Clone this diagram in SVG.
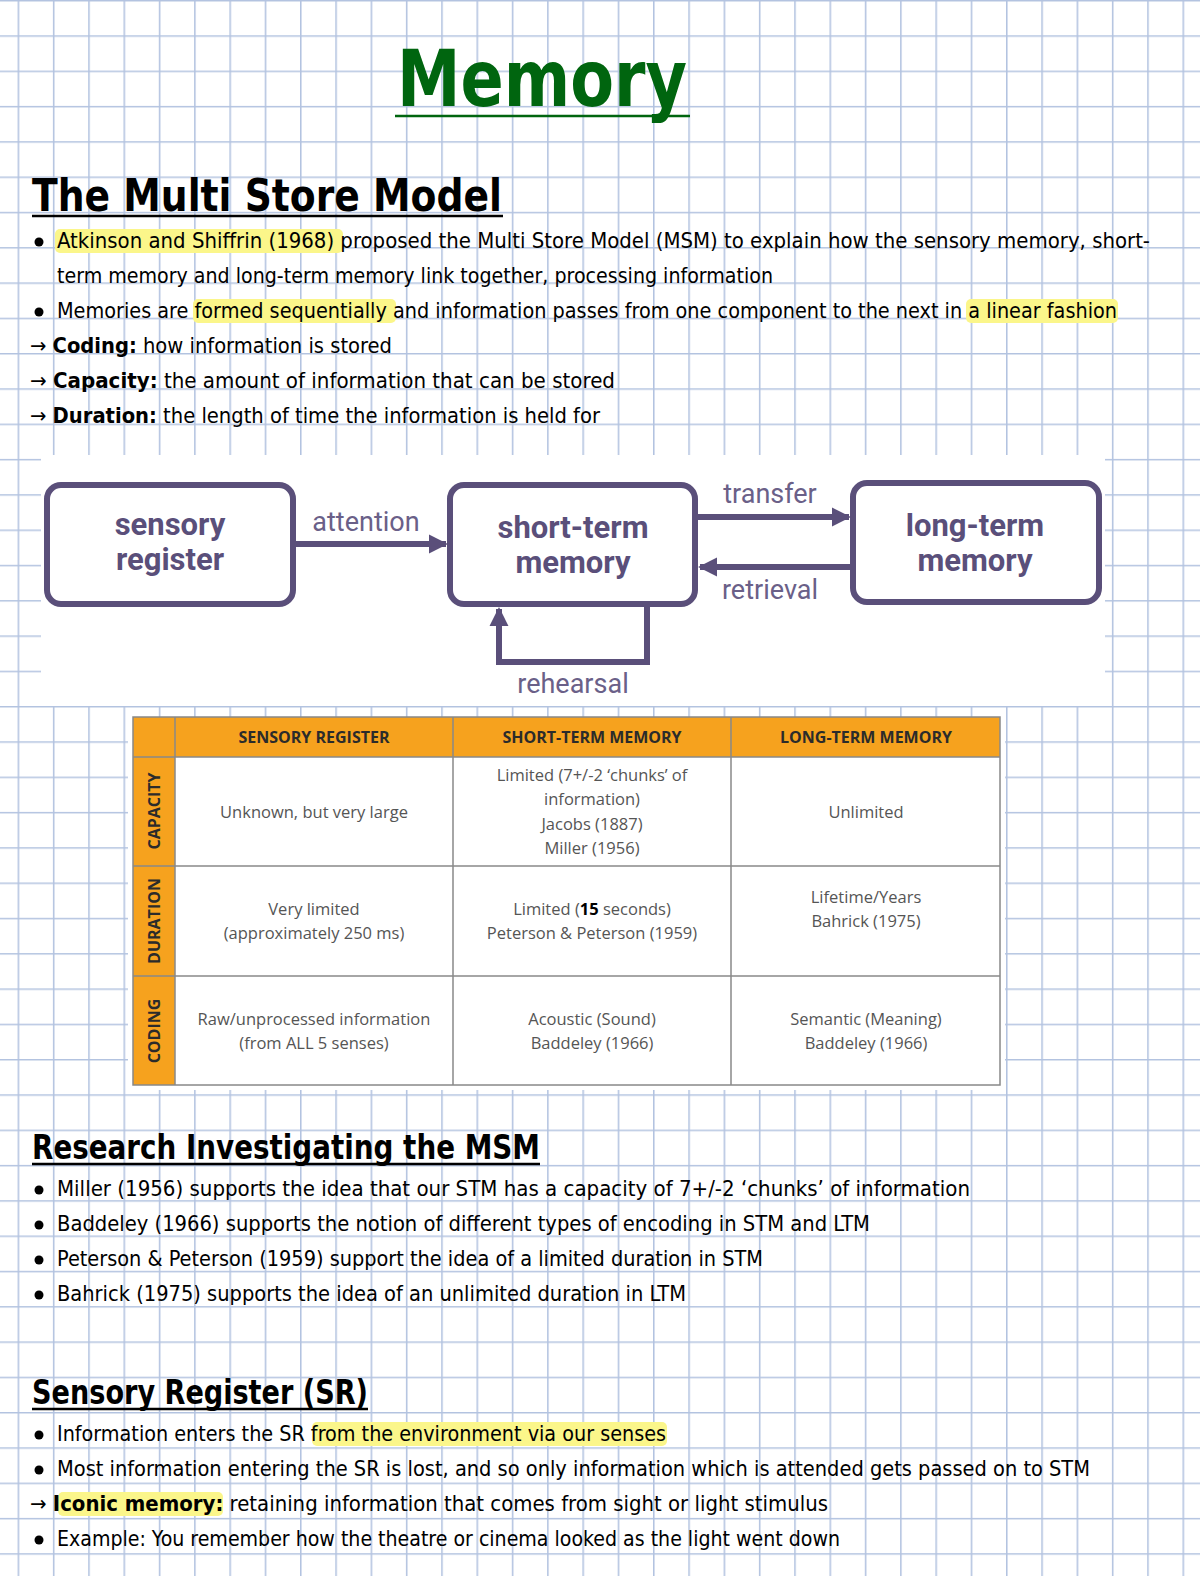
<svg xmlns="http://www.w3.org/2000/svg" width="1200" height="1576" viewBox="0 0 1200 1576">
<defs>
<pattern id="grid" patternUnits="userSpaceOnUse" x="17.6" y="0" width="35.3" height="35.3">
<path d="M0.75 0V35.3M0 0.75H35.3" stroke="#b3c3e0" stroke-width="1.6" fill="none"/>
</pattern>
<marker id="ah" viewBox="0 0 10 10" refX="9" refY="5" markerWidth="3.2" markerHeight="3.2" orient="auto" markerUnits="strokeWidth"><path d="M0 0L10 5L0 10z" fill="#5a4f7a"/></marker>
<style>
.h{font-family:"DejaVu Sans Condensed","Liberation Sans Narrow","Liberation Sans",sans-serif;font-weight:bold;fill:#000}
.b{font-family:"DejaVu Sans Condensed","Liberation Sans",sans-serif;font-size:21px;fill:#000}
.hl{fill:#fbf68a}
.box{fill:#fff;stroke:#5a4f7a;stroke-width:6}
.bt{font-family:Roboto,"Liberation Sans",sans-serif;font-weight:bold;font-size:31px;fill:#5a4f7a;text-anchor:middle}
.lt{font-family:Roboto,"Liberation Sans",sans-serif;font-size:27px;fill:#6a6088;text-anchor:middle}
.con{fill:none;stroke:#5a4f7a;stroke-width:6}
.th{font-family:"Open Sans","Liberation Sans",sans-serif;font-weight:bold;font-size:16px;fill:#2b2b2b;text-anchor:middle}
.td{font-family:"Open Sans","Liberation Sans",sans-serif;font-size:16.5px;fill:#555;text-anchor:middle}
.tl{stroke:#888;stroke-width:1.5}
</style>
</defs>
<rect width="1200" height="1576" fill="#fff"/>
<rect width="1200" height="1576" fill="url(#grid)"/>
<rect x="41" y="455" width="1064" height="251" fill="#fff"/>
<rect x="128" y="717" width="877" height="373" fill="#fff"/>

<g id="title">
<text x="542" y="106" text-anchor="middle" class="h" font-size="78" style="fill:#00650f" textLength="290" lengthAdjust="spacingAndGlyphs">Memory</text>
<line x1="395" y1="116" x2="690" y2="116" stroke="#00650f" stroke-width="2.5"/>
</g>

<g id="msm-notes">
<text x="32" y="211" class="h" font-size="44" textLength="470" lengthAdjust="spacingAndGlyphs">The Multi Store Model</text>
<line x1="32" y1="216" x2="503" y2="216" stroke="#000" stroke-width="2.5"/>
<rect class="hl" x="55" y="229" width="288" height="24" rx="5"/>
<rect class="hl" x="193" y="299" width="203" height="24" rx="5"/>
<rect class="hl" x="966" y="299" width="152" height="24" rx="5"/>
<circle cx="39" cy="242" r="4.5"/><circle cx="39" cy="312" r="4.5"/>
<text x="57" y="248" class="b" textLength="1093" lengthAdjust="spacingAndGlyphs">Atkinson and Shiffrin (1968) proposed the Multi Store Model (MSM) to explain how the sensory memory, short-</text>
<text x="57" y="283" class="b" textLength="716" lengthAdjust="spacingAndGlyphs">term memory and long-term memory link together, processing information</text>
<text x="57" y="318" class="b" textLength="1060" lengthAdjust="spacingAndGlyphs">Memories are formed sequentially and information passes from one component to the next in a linear fashion</text>
<text x="30" y="353" class="b" textLength="362" lengthAdjust="spacingAndGlyphs">→ <tspan font-weight="bold">Coding:</tspan> how information is stored</text>
<text x="30" y="388" class="b" textLength="585" lengthAdjust="spacingAndGlyphs">→ <tspan font-weight="bold">Capacity:</tspan> the amount of information that can be stored</text>
<text x="30" y="423" class="b" textLength="570" lengthAdjust="spacingAndGlyphs">→ <tspan font-weight="bold">Duration:</tspan> the length of time the information is held for</text>
</g>

<g id="sensory-register"><rect class="box" x="47" y="485" width="246" height="119" rx="14"/>
<text class="bt" x="170" y="535">sensory</text><text class="bt" x="170" y="570">register</text></g>
<g id="short-term-memory"><rect class="box" x="450" y="485" width="245" height="119" rx="14"/>
<text class="bt" x="573" y="538">short-term</text><text class="bt" x="573" y="573">memory</text></g>
<g id="long-term-memory"><rect class="box" x="853" y="483" width="246" height="119" rx="14"/>
<text class="bt" x="975" y="536">long-term</text><text class="bt" x="975" y="571">memory</text></g>
<g id="connectors">
<line class="con" x1="296" y1="544" x2="446" y2="544" marker-end="url(#ah)"/>
<line class="con" x1="698" y1="517" x2="849" y2="517" marker-end="url(#ah)"/>
<line class="con" x1="850" y1="567" x2="700" y2="567" marker-end="url(#ah)"/>
<polyline class="con" points="647,606 647,662 499,662 499,609" marker-end="url(#ah)"/>
<text class="lt" x="366" y="531">attention</text>
<text class="lt" x="770" y="503">transfer</text>
<text class="lt" x="770" y="599">retrieval</text>
<text class="lt" x="573" y="693">rehearsal</text>
</g>

<g id="table">
<rect x="133" y="717" width="867" height="40" fill="#f6a21e"/>
<rect x="133" y="717" width="42" height="368" fill="#f6a21e"/>
<g class="tl">
<rect x="133" y="717" width="867" height="368" fill="none"/>
<line x1="133" y1="757" x2="1000" y2="757"/>
<line x1="133" y1="866" x2="1000" y2="866"/>
<line x1="133" y1="976" x2="1000" y2="976"/>
<line x1="175" y1="717" x2="175" y2="1085"/>
<line x1="453" y1="717" x2="453" y2="1085"/>
<line x1="731" y1="717" x2="731" y2="1085"/>
</g>
<text class="th" x="314" y="743">SENSORY REGISTER</text>
<text class="th" x="592" y="743">SHORT-TERM MEMORY</text>
<text class="th" x="866" y="743">LONG-TERM MEMORY</text>
<text class="th" transform="translate(160,811) rotate(-90)">CAPACITY</text>
<text class="th" transform="translate(160,921) rotate(-90)">DURATION</text>
<text class="th" transform="translate(160,1031) rotate(-90)">CODING</text>
<text class="td" x="314" y="818">Unknown, but very large</text>
<text class="td" x="592" y="781">Limited (7+/-2 ‘chunks’ of</text>
<text class="td" x="592" y="805">information)</text>
<text class="td" x="592" y="830">Jacobs (1887)</text>
<text class="td" x="592" y="854">Miller (1956)</text>
<text class="td" x="866" y="818">Unlimited</text>
<text class="td" x="314" y="915">Very limited</text>
<text class="td" x="314" y="939">(approximately 250 ms)</text>
<text class="td" x="592" y="915">Limited (<tspan font-weight="bold" fill="#000">15</tspan> seconds)</text>
<text class="td" x="592" y="939">Peterson &amp; Peterson (1959)</text>
<text class="td" x="866" y="903">Lifetime/Years</text>
<text class="td" x="866" y="927">Bahrick (1975)</text>
<text class="td" x="314" y="1025">Raw/unprocessed information</text>
<text class="td" x="314" y="1049">(from ALL 5 senses)</text>
<text class="td" x="592" y="1025">Acoustic (Sound)</text>
<text class="td" x="592" y="1049">Baddeley (1966)</text>
<text class="td" x="866" y="1025">Semantic (Meaning)</text>
<text class="td" x="866" y="1049">Baddeley (1966)</text>
</g>

<g id="research">
<text x="32" y="1159" class="h" font-size="33" textLength="508" lengthAdjust="spacingAndGlyphs">Research Investigating the MSM</text>
<line x1="32" y1="1164" x2="540" y2="1164" stroke="#000" stroke-width="2.5"/>
<circle cx="39" cy="1190" r="4.5"/><circle cx="39" cy="1225" r="4.5"/><circle cx="39" cy="1260" r="4.5"/><circle cx="39" cy="1295" r="4.5"/>
<text x="57" y="1196" class="b" textLength="913" lengthAdjust="spacingAndGlyphs">Miller (1956) supports the idea that our STM has a capacity of 7+/-2 ‘chunks’ of information</text>
<text x="57" y="1231" class="b" textLength="813" lengthAdjust="spacingAndGlyphs">Baddeley (1966) supports the notion of different types of encoding in STM and LTM</text>
<text x="57" y="1266" class="b" textLength="706" lengthAdjust="spacingAndGlyphs">Peterson &amp; Peterson (1959) support the idea of a limited duration in STM</text>
<text x="57" y="1301" class="b" textLength="629" lengthAdjust="spacingAndGlyphs">Bahrick (1975) supports the idea of an unlimited duration in LTM</text>
</g>

<g id="sr-notes">
<text x="32" y="1404" class="h" font-size="33" textLength="336" lengthAdjust="spacingAndGlyphs">Sensory Register (SR)</text>
<line x1="32" y1="1409" x2="368" y2="1409" stroke="#000" stroke-width="2.5"/>
<rect class="hl" x="312" y="1422" width="355" height="24" rx="5"/>
<rect class="hl" x="58" y="1492" width="165" height="24" rx="5"/>
<circle cx="39" cy="1435" r="4.5"/><circle cx="39" cy="1470" r="4.5"/><circle cx="39" cy="1540" r="4.5"/>
<text x="57" y="1441" class="b" textLength="609" lengthAdjust="spacingAndGlyphs">Information enters the SR from the environment via our senses</text>
<text x="57" y="1476" class="b" textLength="1033" lengthAdjust="spacingAndGlyphs">Most information entering the SR is lost, and so only information which is attended gets passed on to STM</text>
<text x="30" y="1511" class="b" textLength="798" lengthAdjust="spacingAndGlyphs">→ <tspan font-weight="bold">Iconic memory:</tspan> retaining information that comes from sight or light stimulus</text>
<text x="57" y="1546" class="b" textLength="783" lengthAdjust="spacingAndGlyphs">Example: You remember how the theatre or cinema looked as the light went down</text>
</g>
</svg>
